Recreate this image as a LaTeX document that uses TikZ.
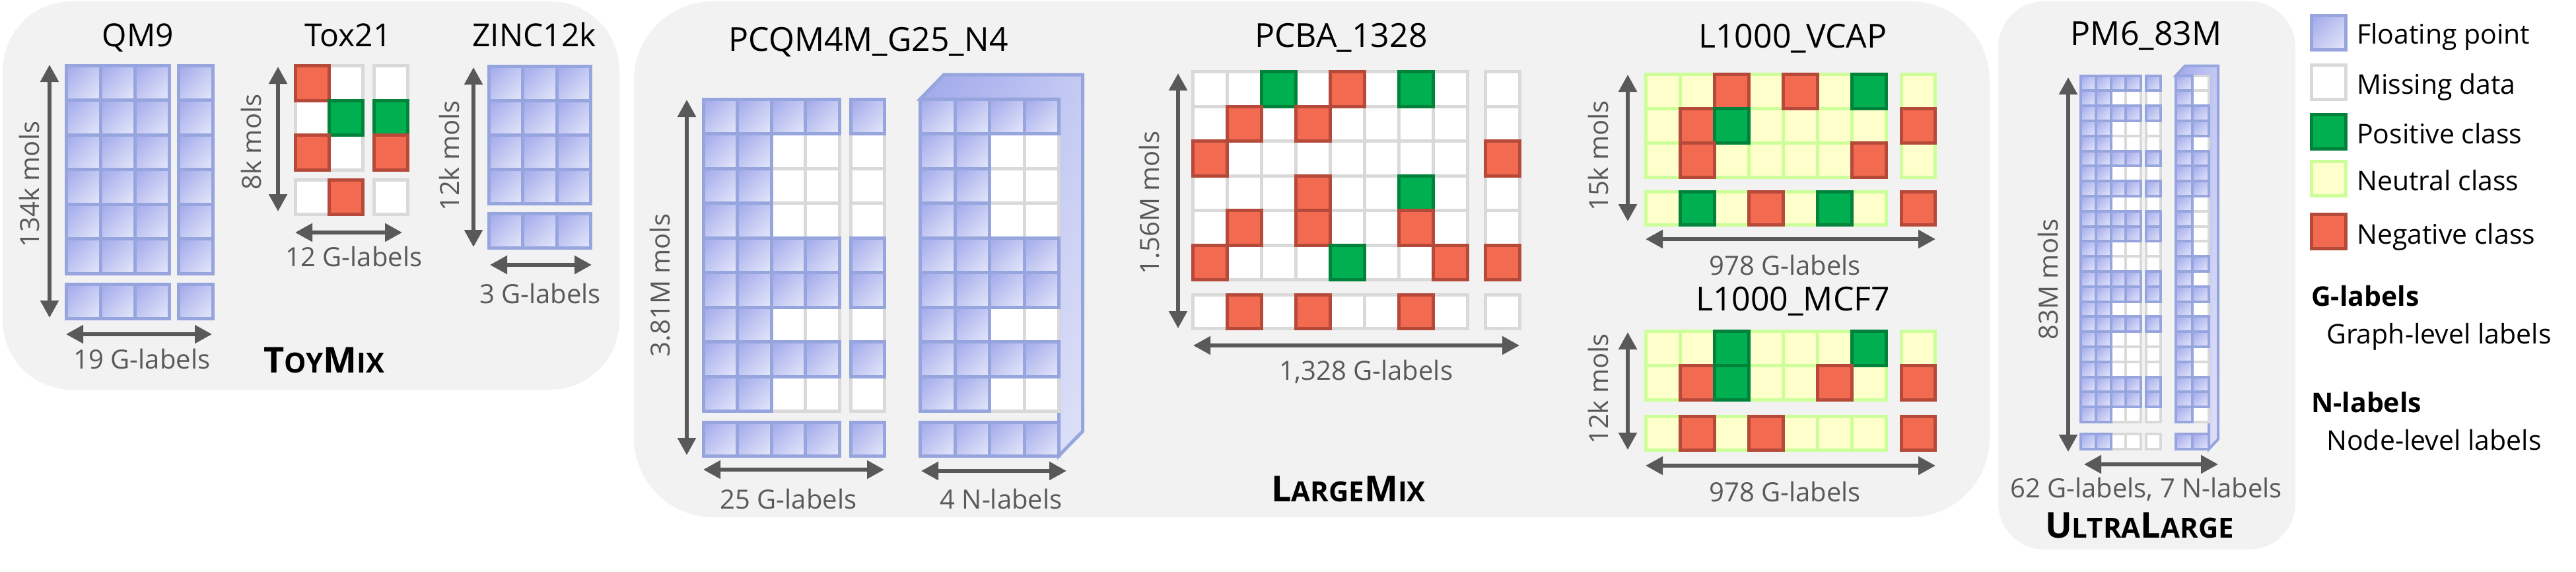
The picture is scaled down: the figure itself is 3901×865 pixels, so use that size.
\documentclass[tikz,border=0pt]{standalone}
\usepackage{fontspec}
\setmainfont{Open Sans}
\usetikzlibrary{arrows.meta,shadings}
\definecolor{panelbg}{HTML}{F2F2F2}
\definecolor{fborder}{HTML}{97A5DE}
\definecolor{fA}{HTML}{A0A8EB}
\definecolor{fB}{HTML}{C3C8F2}
\definecolor{fC}{HTML}{E6E8FA}
\definecolor{faceB}{HTML}{C5CAF2}
\definecolor{faceC}{HTML}{DEE1F8}
\definecolor{mborder}{HTML}{D9D9D9}
\definecolor{gfill}{HTML}{00B050}
\definecolor{gborder}{HTML}{00823B}
\definecolor{nfill}{HTML}{FFFFCC}
\definecolor{nborder}{HTML}{CCFF99}
\definecolor{rfill}{HTML}{F26A50}
\definecolor{rborder}{HTML}{B5493A}
\definecolor{labgray}{HTML}{595959}
\pgfdeclarelayer{panel}
\pgfdeclarelayer{light}
\pgfsetlayers{panel,light,main}
\newcommand\fs[1]{\fontsize{#1}{#1}\selectfont}
\newcommand\bigc[1]{{\fontsize{54}{54}\selectfont #1}}
\newcommand\smallc[1]{{\fontsize{42}{42}\selectfont #1}}
\tikzset{
  cF/.style={draw=fborder, shade, upper left=fA, upper right=fB, lower left=fB, lower right=fC},
  cW/.style={draw=mborder, fill=white},
  cN/.style={draw=nborder, fill=nfill},
  cG/.style={draw=gborder, fill=gfill},
  cR/.style={draw=rborder, fill=rfill},
  face/.style={draw=fborder, shade, upper left=fA, upper right=faceB, lower left=faceB, lower right=faceC},
  panelbox/.style={fill=panelbg},
  dimarrow/.style={draw=labgray, line width=5.5pt, {Triangle[width=27pt,length=26pt]}-{Triangle[width=27pt,length=26pt]}},
  tough/.style={anchor=base, font=\fs{48}, text=black, inner sep=0pt},
  title/.style={anchor=base, font=\fs{50}, text=black, inner sep=0pt},
  lab/.style={anchor=base, font=\fs{40}, text=labgray, inner sep=0pt},
  vlab/.style={rotate=90, font=\fs{40}, text=labgray, inner sep=0pt},
  mixlab/.style={anchor=base, text=black, inner sep=0pt, font=\bfseries},
  legtext/.style={anchor=base west, font=\fs{41}, text=black, inner sep=0pt},
  legbold/.style={anchor=base west, font=\fs{41}\bfseries, text=black, inner sep=0pt}
}
\newcommand\cellF[5]{\path[cF,line width=#5] ({#1},{#2}) rectangle ++({#3},{#4});}
\newcommand\cellG[5]{\path[cG,line width=#5] ({#1},{#2}) rectangle ++({#3},{#4});}
\newcommand\cellR[5]{\path[cR,line width=#5] ({#1},{#2}) rectangle ++({#3},{#4});}
\newcommand\cellW[5]{\begin{pgfonlayer}{light}\path[cW,line width=#5] ({#1},{#2}) rectangle ++({#3},{#4});\end{pgfonlayer}}
\newcommand\cellN[5]{\begin{pgfonlayer}{light}\path[cN,line width=#5] ({#1},{#2}) rectangle ++({#3},{#4});\end{pgfonlayer}}
\newcommand\cellrow[6]{% letters, x0, y, cw, ch, lw
  \def\crx{#2}\def\cry{#3}\def\crw{#4}\def\crh{#5}\def\crlw{#6}%
  \def\crpos{0}%
  \crloop#1\relax}
\def\crloop#1{%
  \ifx#1\relax\else
    \csname cell#1\endcsname{\crx+\crpos*\crw}{\cry}{\crw}{\crh}{\crlw}%
    \pgfmathsetmacro\crpos{\crpos+1}%
    \expandafter\crloop
  \fi}
\newcommand\blockrows[6]{% x0, y0, cw, ch, lw, rows
  \foreach \r [count=\j from 0] in {#6} {%
    \expandafter\cellrow\expandafter{\r}{#1}{#2+\j*#4}{#3}{#4}{#5}}}
\begin{document}
\begin{tikzpicture}[x=1pt,y=-1pt]
\useasboundingbox (0,0) rectangle (3901,865);
\begin{pgfonlayer}{panel}
  \path[panelbox, rounded corners=105pt] (4,2) rectangle (938,590);
  \path[panelbox, rounded corners=120pt] (960,2) rectangle (3013,783);
  \path[panelbox, rounded corners=70pt] (3026,2) rectangle (3476,832);
  \path[face, line width=5pt] (1393.5,150) -- (1429.5,113) -- (1639.5,113) -- (1639.5,653) -- (1603.5,690) -- (1603.5,150) -- cycle;
  \path[face, line width=4pt] (3295,114.5) -- (3309,99.5) -- (3359,99.5) -- (3359,665) -- (3345,680) -- (3345,114.5) -- cycle;
\end{pgfonlayer}

% ---------- TOYMIX ----------
\node[tough] (tqm9) at (209,70) {QM9};
\node[tough] (ttox) at (527,70) {Tox21};
\node[tough] (tzinc) at (809,70) {ZINC12k};
% QM9
\blockrows{100}{99}{52}{52.5}{5pt}{FFF,FFF,FFF,FFF,FFF,FFF}
\blockrows{270}{99}{52}{52.5}{5pt}{F,F,F,F,F,F}
\blockrows{100}{430}{52}{52}{5pt}{FFF}
\blockrows{270}{430}{52}{52}{5pt}{F}
% Tox21
\blockrows{447}{99.5}{51}{52.5}{5pt}{RW,WG,RW}
\blockrows{566}{99.5}{51}{52.5}{5pt}{W,G,R}
\blockrows{447}{272}{51}{52.5}{5pt}{WR}
\blockrows{566}{272}{51}{52.5}{5pt}{W}
% ZINC12k
\blockrows{740}{100.5}{51.5}{52}{5pt}{FFF,FFF,FFF,FFF}
\blockrows{740}{323}{51.5}{52}{5pt}{FFF}

\coordinate (qv1) at (75,98);   \coordinate (qv2) at (75,481);
\coordinate (qh1) at (100,506); \coordinate (qh2) at (321,506);
\coordinate (tv1) at (421,101); \coordinate (tv2) at (421,320);
\coordinate (th1) at (447,352); \coordinate (th2) at (609,352);
\coordinate (zv1) at (717,102); \coordinate (zv2) at (717,374);
\coordinate (zh1) at (742,401); \coordinate (zh2) at (896,401);
\draw[dimarrow] (qv1) -- (qv2);
\draw[dimarrow] (qh1) -- (qh2);
\draw[dimarrow] (tv1) -- (tv2);
\draw[dimarrow] (th1) -- (th2);
\draw[dimarrow] (zv1) -- (zv2);
\draw[dimarrow] (zh1) -- (zh2);
\node[vlab] (lqv) at (44,279) {134k mols};
\node[lab] (lqh) at (215,558) {19 G-labels};
\node[vlab] (ltv) at (380,215) {8k mols};
\node[lab] (lth) at (536,403) {12 G-labels};
\node[vlab] (lzv) at (680,236) {12k mols};
\node[lab] (lzh) at (818,459) {3 G-labels};
\node[mixlab] (toymix) at (491,564) {\bigc{T}\smallc{OY}\bigc{M}\smallc{IX}};

% ---------- LARGEMIX ----------
\node[title] (tpcqm) at (1315,77) {PCQM4M\_G25\_N4};
\node[title] (tpcba) at (2031,71) {PCBA\_1328};
\node[title] (tvcap) at (2715,72) {L1000\_VCAP};
\node[title] (tmcf) at (2715,470) {L1000\_MCF7};
% PCQM G part
\blockrows{1065}{150}{51.5}{52.5}{5pt}{FFFF,FFWW,FFWW,FFWW,FFFF,FFFF,FFWW,FFFF,FFWW}
\blockrows{1288}{150}{51.5}{52.5}{5pt}{F,W,W,W,F,F,W,F,W}
\blockrows{1065}{639}{51.5}{51}{5pt}{FFFF}
\blockrows{1288}{639}{51.5}{51}{5pt}{F}
% PCQM N part
\blockrows{1393.5}{150}{52.5}{52.5}{5pt}{FFFF,FFWW,FFWW,FFWW,FFFF,FFFF,FFWW,FFFF,FFWW}
\blockrows{1393.5}{639}{52.5}{51}{5pt}{FFFF}
% PCBA
\blockrows{1806.5}{108.5}{52}{52.5}{5pt}{WWGWRWGW,WRWRWWWW,RWWWWWWW,WWWRWWGW,WRWRWWRW,RWWWGWWR}
\blockrows{2249}{108.5}{52}{52.5}{5pt}{W,W,R,W,W,R}
\blockrows{1806.5}{446}{52}{51}{5pt}{WRWRWWRW}
\blockrows{2249}{446}{52}{51}{5pt}{W}
% VCAP
\blockrows{2492.5}{112}{52}{52.3}{5pt}{NNRNRNG,NRGNNNN,NRNNNNR}
\blockrows{2879.5}{112}{51}{52.3}{5pt}{N,R,N}
\blockrows{2492.5}{290}{52}{50}{5pt}{NGNRNGN}
\blockrows{2879.5}{290}{51}{50}{5pt}{R}
% MCF7
\blockrows{2492.5}{501.5}{52}{52}{5pt}{NNGNNNG,NRGNNRN}
\blockrows{2879.5}{501.5}{51}{52}{5pt}{N,R}
\blockrows{2492.5}{630}{52}{51}{5pt}{NRNRNNN}
\blockrows{2879.5}{630}{51}{51}{5pt}{R}

\coordinate (pv1) at (1040,151);  \coordinate (pv2) at (1040,689);
\coordinate (ph1) at (1065,711);  \coordinate (ph2) at (1339,711);
\coordinate (pn1) at (1395,713);  \coordinate (pn2) at (1615,713);
\coordinate (bv1) at (1784,111);  \coordinate (bv2) at (1784,497);
\coordinate (bh1) at (1807,523);  \coordinate (bh2) at (2301,523);
\coordinate (vv1) at (2465,113);  \coordinate (vv2) at (2465,335);
\coordinate (vh1) at (2492,362);  \coordinate (vh2) at (2931,362);
\coordinate (mv1) at (2465,503);  \coordinate (mv2) at (2465,681);
\coordinate (mh1) at (2492,705);  \coordinate (mh2) at (2931,705);
\draw[dimarrow] (pv1) -- (pv2);
\draw[dimarrow] (ph1) -- (ph2);
\draw[dimarrow] (pn1) -- (pn2);
\draw[dimarrow] (bv1) -- (bv2);
\draw[dimarrow] (bh1) -- (bh2);
\draw[dimarrow] (vv1) -- (vv2);
\draw[dimarrow] (vh1) -- (vh2);
\draw[dimarrow] (mv1) -- (mv2);
\draw[dimarrow] (mh1) -- (mh2);
\node[vlab] (lpv) at (1000,432) {3.81M mols};
\node[lab] (lph) at (1194,770) {25 G-labels};
\node[lab] (lpn) at (1516,770) {4 N-labels};
\node[vlab] (lbv) at (1741,307) {1.56M mols};
\node[lab] (lbh) at (2069,575) {1,328 G-labels};
\node[vlab] (lvv) at (2420,236) {15k mols};
\node[lab] (lvh) at (2703,416) {978 G-labels};
\node[vlab] (lmv) at (2420,589) {12k mols};
\node[lab] (lmh) at (2703,759) {978 G-labels};
\node[mixlab] (largemix) at (2042,759) {\bigc{L}\smallc{ARGE}\bigc{M}\smallc{IX}};

% ---------- ULTRALARGE ----------
\node[title] (tpm6) at (3250,68) {PM6\_83M};
\blockrows{3151}{114.5}{22.75}{22.8}{4pt}{FFFF,FFWW,FFFF,FFWW,FFWW,FFFF,FFWW,FFFF,FFWW,FFFF,FFFF,FFWW,FFWW,FFFF,FFFF,FFWW,FFFF,FFWW,FFWW,FFWW,FFFF,FFFF,FFWW}
\blockrows{3249.5}{114.5}{22.75}{22.8}{4pt}{F,W,F,W,W,F,W,F,W,F,F,W,W,F,F,W,F,W,W,W,F,F,W}
\blockrows{3151}{657}{22.75}{23}{4pt}{FFWW}
\blockrows{3249.5}{657}{22.75}{23}{4pt}{W}
\blockrows{3295}{114.5}{25}{22.8}{4pt}{FW,FW,FF,FF,FW,FF,FF,FF,FW,FW,FW,FW,FF,FW,FF,FW,FF,FF,FW,FW,FF,FF,FW}
\blockrows{3295}{657}{25}{23}{4pt}{FF}
\coordinate (uv1) at (3132,117); \coordinate (uv2) at (3132,684);
\coordinate (uh1) at (3156,703); \coordinate (uh2) at (3359,703);
\draw[dimarrow] (uv1) -- (uv2);
\draw[dimarrow] (uh1) -- (uh2);
\node[vlab] (luv) at (3101,423) {83M mols};
\node[lab] (luh) at (3250,753) {62 G-labels, 7 N-labels};
\node[mixlab] (ultralarge) at (3240,814) {\bigc{U}\smallc{LTRA}\bigc{L}\smallc{ARGE}};

% ---------- LEGEND ----------
\cellF{3500.5}{23.5}{52}{52}{5pt}
\cellW{3500.5}{98.5}{52}{52}{5pt}
\cellG{3500.5}{173}{52}{52}{5pt}
\cellN{3500.5}{244.5}{52}{52}{5pt}
\cellR{3500.5}{324.5}{52}{52}{5pt}
\node[legtext] (lg1) at (3569,66) {Floating point};
\node[legtext] (lg2) at (3569,142) {Missing data};
\node[legtext] (lg3) at (3569,217) {Positive class};
\node[legtext] (lg4) at (3569,288) {Neutral class};
\node[legtext] (lg5) at (3569,369) {Negative class};
\node[legbold] (lgg) at (3500,463) {G-labels};
\node[legtext] (lgg2) at (3523,520) {Graph-level labels};
\node[legbold] (lgn) at (3500,624) {N-labels};
\node[legtext] (lgn2) at (3523,681) {Node-level labels};
\end{tikzpicture}
\end{document}
